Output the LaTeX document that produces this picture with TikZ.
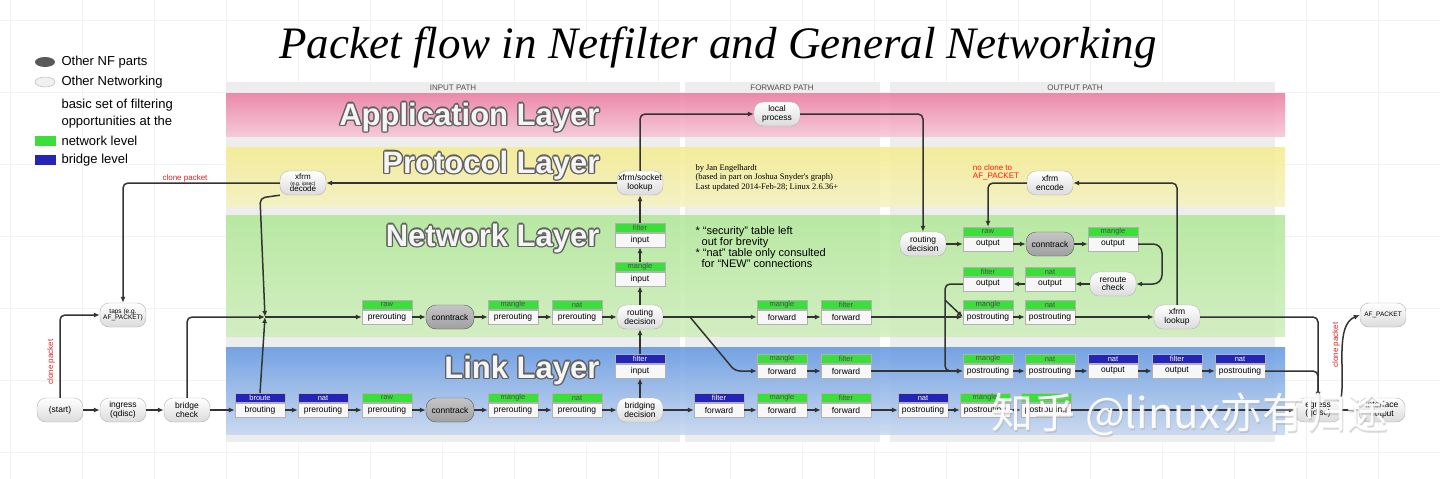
\documentclass[tikz,border=0pt]{standalone}
\usepackage{fontspec}
\setmainfont{Liberation Sans}
\newfontfamily\serifT{Liberation Serif}
\newfontfamily\cjk{Noto Sans CJK SC}
\usetikzlibrary{arrows.meta}
\definecolor{ngreen}{HTML}{3ADF3A}
\definecolor{nblue}{HTML}{2424B8}
\definecolor{lred}{HTML}{E02020}
\newcommand{\fs}[1]{\fontsize{#1}{#1}\selectfont}
\newcommand{\tb}[6]{%
 \node[bodyb] (#1) at (#2,#3) {#5};
 \node[hdrb,#6,anchor=south] (#1-h) at (#1.north) {#4};}
\newcommand{\outl}[3]{%
 \foreach \dx/\dy in {1.4/0,-1.4/0,0/1.4,0/-1.4,1/1,1/-1,-1/1,-1/-1}{
  \node[anchor=east,text=gray!75!black,font=\bfseries\fs{31}] at (#1+\dx,#2+\dy) {#3};}
 \node[anchor=east,text=white!92!gray,font=\bfseries\fs{31}] at (#1,#2) {#3};}
\begin{document}
\begin{tikzpicture}[x=1pt,y=-1pt,
 bodyb/.style={draw=gray!60,fill=gray!6,minimum width=50pt,minimum height=14pt,inner sep=0pt,font=\fs{8.5}},
 hdrb/.style={draw=gray!60,minimum width=50pt,minimum height=9.5pt,inner sep=0pt,font=\fs{7.5}},
 hg/.style={fill=ngreen,text=black!70},
 hb/.style={fill=nblue,text=white},
 rn/.style={draw=gray!60,rounded corners=9pt,top color=white,bottom color=gray!28,minimum width=46pt,minimum height=24pt,inner sep=1pt,align=center,font=\fs{8.5}},
 ct/.style={draw=gray!70!black,rounded corners=10pt,top color=gray!45,bottom color=gray!75,minimum width=48pt,minimum height=24pt,inner sep=1pt,font=\fs{8.5}},
 ar/.style={draw=black!80,line width=1.5pt,-{Latex[length=6pt,width=5pt]}},
 rc/.style={rounded corners=5pt},
 lab/.style={text=lred,font=\fs{8}}]
\useasboundingbox (0,0) rectangle (1440,479);
\fill[white] (0,0) rectangle (1440,479);
% grid
\foreach \x in {10,82,...,1440} \draw[gray!10] (\x,0) -- (\x,479);
\foreach \y in {20,92,...,479} \draw[gray!10] (0,\y) -- (1440,\y);
% panels
\fill[gray!14] (226,82) rectangle (680,442);
\fill[gray!14] (685,82) rectangle (880,442);
\fill[gray!14] (890,82) rectangle (1275,442);
\node[font=\fs{8},text=gray!60!black] at (453,88) {INPUT PATH};
\node[font=\fs{8},text=gray!60!black] at (782,88) {FORWARD PATH};
\node[font=\fs{8},text=gray!60!black] at (1075,88) {OUTPUT PATH};
% bands
\shade[top color={rgb,255:red,236;green,120;blue,160},bottom color={rgb,255:red,246;green,196;blue,212},opacity=.85] (226,93) rectangle (1285,136);
\shade[top color={rgb,255:red,244;green,236;blue,140},bottom color={rgb,255:red,246;green,242;blue,190},opacity=.85] (226,147) rectangle (1285,206);
\shade[top color={rgb,255:red,176;green,232;blue,150},bottom color={rgb,255:red,206;green,238;blue,186},opacity=.85] (226,215) rectangle (1285,336);
\shade[top color={rgb,255:red,96;green,150;blue,226},bottom color={rgb,255:red,196;green,214;blue,240},opacity=.85] (226,347) rectangle (1285,434);
\outl{603}{117}{Application Layer}
\outl{603}{165}{Protocol Layer}
\outl{603}{238}{Network Layer}
\outl{603}{370}{Link Layer}
% title
\node[font=\serifT\itshape\fs{45}] at (718,47) {Packet flow in Netfilter and General Networking};
% legend
\fill[gray!70!black] (45,62) ellipse (10pt and 5pt);
\draw[gray!60,fill=gray!12] (45,82) ellipse (10pt and 5pt);
\node[anchor=west,font=\fs{13}] at (58,62) {Other NF parts};
\node[anchor=west,font=\fs{13}] at (58,82) {Other Networking};
\node[anchor=west,font=\fs{13}] at (58,105) {basic set of filtering};
\node[anchor=west,font=\fs{13}] at (58,122) {opportunities at the};
\fill[ngreen] (35,136) rectangle (56,146);
\fill[nblue] (35,155) rectangle (56,165);
\node[anchor=west,font=\fs{13}] at (58,141) {network level};
\node[anchor=west,font=\fs{13}] at (58,160) {bridge level};
% texts
\node[anchor=north west,font=\serifT\fs{8.5},align=left] at (692,161) {by Jan Engelhardt\\[1pt](based in part on Joshua Snyder's graph)\\[1pt]Last updated 2014-Feb-28; Linux 2.6.36+};
\node[anchor=north west,font=\fs{11},align=left] at (692,223) {* ``security'' table left\\\ \ out for brevity\\* ``nat'' table only consulted\\\ \ for ``NEW'' connections};
% bottom row
\node[rn] (start) at (60,410) {(start)};
\node[rn] (ingress) at (123,410) {ingress\\(qdisc)};
\node[rn] (bridge) at (187,410) {bridge\\check};
\tb{broute}{260}{410}{broute}{brouting}{hb}
\tb{npre1}{323}{410}{nat}{prerouting}{hb}
\tb{rpre1}{387}{410}{raw}{prerouting}{hg}
\node[ct] (ct1) at (450,410) {conntrack};
\tb{mpre1}{513}{410}{mangle}{prerouting}{hg}
\tb{npre1b}{577}{410}{nat}{prerouting}{hg}
\node[rn] (bdec) at (640,410) {bridging\\decision};
\tb{ffwdb}{719}{410}{filter}{forward}{hb}
\tb{mfwd1}{782}{410}{mangle}{forward}{hg}
\tb{ffwd1}{846}{410}{filter}{forward}{hg}
\tb{npostb}{923}{410}{nat}{postrouting}{hb}
\tb{mpost1}{985}{410}{mangle}{postrouting}{hg}
\tb{npost1}{1046}{410}{nat}{postrouting}{hg}
\node[rn] (egress) at (1318,410) {egress\\(qdisc)};
\node[rn] (ifout) at (1382,410) {interface\\output};
% link upper row
\tb{lfin}{640}{371}{filter}{input}{hb}
\tb{mfwd2}{782}{371}{mangle}{forward}{hg}
\tb{ffwd2}{846}{371}{filter}{forward}{hg}
\tb{mpost2}{988}{371}{mangle}{postrouting}{hg}
\tb{npost2}{1050}{371}{nat}{postrouting}{hg}
\tb{noutb}{1113}{371}{nat}{output}{hb}
\tb{foutb}{1177}{371}{filter}{output}{hb}
\tb{npostb2}{1240}{371}{nat}{postrouting}{hb}
% network main row
\node[rn,font=\fs{6.5}] (taps) at (123,315) {taps (e.g.\\AF\_PACKET)};
\tb{rpre3}{387}{317}{raw}{prerouting}{hg}
\node[ct] (ct3) at (450,317) {conntrack};
\tb{mpre3}{513}{317}{mangle}{prerouting}{hg}
\tb{npre3}{577}{317}{nat}{prerouting}{hg}
\node[rn] (rdec) at (640,317) {routing\\decision};
\tb{mfwd3}{782}{317}{mangle}{forward}{hg}
\tb{ffwd3}{846}{317}{filter}{forward}{hg}
\tb{mpost3}{988}{317}{mangle}{postrouting}{hg}
\tb{npost3}{1050}{317}{nat}{postrouting}{hg}
\node[rn] (xlook) at (1177,317) {xfrm\\lookup};
\node[rn,font=\fs{6.5}] (afp) at (1383,315) {AF\_PACKET};
% input chain
\tb{min}{640}{279}{mangle}{input}{hg}
\tb{fin}{640}{240}{filter}{input}{hg}
% output
\node[rn] (rdo) at (923,244) {routing\\decision};
\tb{rout}{988}{244}{raw}{output}{hg}
\node[ct] (cto) at (1050,244) {conntrack};
\tb{mout}{1113}{244}{mangle}{output}{hg}
\tb{fout}{988}{284}{filter}{output}{hg}
\tb{nout}{1050}{284}{nat}{output}{hg}
\node[rn] (rer) at (1113,284) {reroute\\check};
% protocol / app
\node[rn,font=\fs{8}] (decode) at (303,183) {xfrm\\[-2pt]{\fs{5}(e.g. ipsec)}\\[-2pt]decode};
\node[rn] (lookup) at (640,183) {xfrm/socket\\lookup};
\node[rn] (encode) at (1050,183) {xfrm\\encode};
\node[rn] (local) at (777,114) {local\\process};
% coordinates
\coordinate (m) at (265,317);
\coordinate (dv) at (260,198);
\coordinate (dg) at (690,317);
\coordinate (dg2) at (735,371);
\coordinate (cr) at (1162,264);
\coordinate (fc) at (945,330);
\coordinate (fb) at (945,300);
% connectors
\foreach \a/\b in {start/ingress,ingress/bridge,bridge/broute,broute/npre1,npre1/rpre1,rpre1/ct1,ct1/mpre1,mpre1/npre1b,npre1b/bdec,bdec/ffwdb,ffwdb/mfwd1,mfwd1/ffwd1,ffwd1/npostb,npostb/mpost1,mpost1/npost1,npost1/egress,egress/ifout}
  \draw[ar] (\a) -- (\b);
\foreach \a/\b in {rpre3/ct3,ct3/mpre3,mpre3/npre3,npre3/rdec,rdec/mfwd3,mfwd3/ffwd3,ffwd3/mpost3,mpost3/npost3,npost3/xlook,mfwd2/ffwd2,ffwd2/mpost2,mpost2/npost2,npost2/noutb,noutb/foutb,foutb/npostb2,rdo/rout,rout/cto,cto/mout,rer/nout,nout/fout}
  \draw[ar] (\a) -- (\b);
\draw[ar,rc] (start.north) |- (taps.west);
\node[lab,rotate=90] at (51,362) {clone packet};
\draw[ar,rc] (bridge.north) |- (m);
\draw[ar] (broute-h.north) -- (m);
\draw[ar,rc] (decode.south west) -- (dv) -- (m);
\draw[ar,rc] (decode.west) -| (taps.north);
\node[lab] at (185,178) {clone packet};
\draw[ar] (lookup.west) -- (decode.east);
\draw[ar] (m) -- (rpre3.west);
\draw[ar] (rdec.north) -- (min.south);
\draw[ar] (min-h.north) -- (fin.south);
\draw[ar] (fin-h.north) -- (lookup.south);
\draw[ar,rc] (lookup.north) |- (local.west);
\draw[ar] (bdec.north) -- (lfin.south);
\draw[ar] (lfin-h.north) -- (rdec.south);
\draw[ar,rc] (dg) -- (dg2) -- (mfwd2.west);
\draw[ar,rc] (local.east) -| (rdo.north);
\draw[ar,rounded corners=9pt] (mout.east) -| (cr) |- (rer.east);
\draw[ar,rc] (fout.west) -| (fc) |- (mpost2.west);
\draw[ar] (fb) -- (mpost3.west);
\draw[ar,rc] (xlook.east) -| (egress.north);
\draw[ar,rc] (npostb2.east) -| (egress.north);
\draw[ar,rc] (xlook.north) |- (encode.east);
\draw[ar,rc] (encode.west) -| (rout-h.north);
\node[lab,align=left,text=red!80!orange] at (996,172) {no clone to\\AF\_PACKET};
\draw[ar] (egress.north east) .. controls (1345,370) and (1335,325) .. (afp.west);
\node[lab,rotate=90] at (1336,345) {clone packet};
% watermark
\node[text=gray!60,opacity=.5,font=\cjk\fs{42}] at (1191,416) {知乎 @linux亦有归途};
\node[text=white,opacity=.92,font=\cjk\fs{42}] at (1190,414) {知乎 @linux亦有归途};
\end{tikzpicture}
\end{document}
